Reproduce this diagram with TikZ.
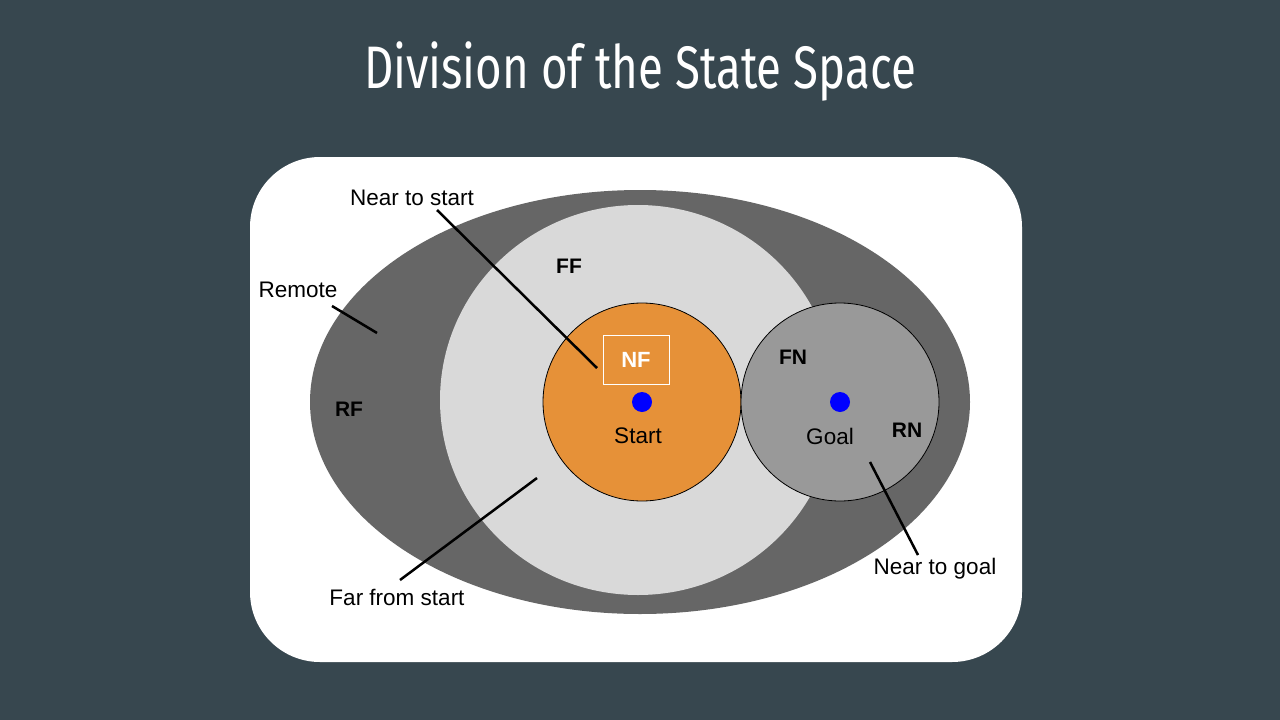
\documentclass[tikz,border=0pt]{standalone}
\usepackage{fontspec}
\setmainfont{Liberation Sans}
\newfontfamily\titlefont{Fira Sans}
\definecolor{bg}{HTML}{37474F}
\definecolor{darkg}{HTML}{666666}
\definecolor{lightg}{HTML}{D9D9D9}
\definecolor{orng}{HTML}{E69138}
\definecolor{goalg}{HTML}{999999}
\begin{document}
\begin{tikzpicture}[x=1pt,y=-1pt,
  lbl/.style={font=\fontsize{22.5}{26}\selectfont, inner sep=1pt},
  blbl/.style={font=\fontsize{21}{24}\selectfont\bfseries, inner sep=1pt},
  ptr/.style={draw=black, line width=2.5pt},
  dot/.style={circle, fill=blue, minimum size=20pt, inner sep=0pt}]
\fill[bg] (0,0) rectangle (1280,720);
\useasboundingbox (0,0) rectangle (1280,720);
\node[text=white, font=\titlefont\fontsize{60}{66}\selectfont, xscale=0.76] (title) at (640,71) {Division of the State Space};
\fill[white, rounded corners=70pt] (250,157) rectangle (1022,662);
\fill[darkg] (640,402) ellipse [x radius=330, y radius=212];
\fill[lightg] (638,400) ellipse [x radius=198, y radius=195];
\draw[fill=orng, line width=0.8pt] (642,402) circle [radius=99];
\draw[fill=goalg, line width=0.8pt] (840,402) circle [radius=99];
\node[dot] (sdot) at (642,402) {};
\node[dot] (gdot) at (840,402) {};
\node[draw=white, line width=1pt, minimum width=66pt, minimum height=49pt, text=white, font=\fontsize{22}{24}\selectfont\bfseries] (nf) at (636,360) {NF};
\node[lbl] (start) at (638,436) {Start};
\node[lbl] (goal) at (830,436) {Goal};
\node[blbl] (ff) at (569,266) {FF};
\node[blbl] (rf) at (349,409) {RF};
\node[blbl] (fn) at (793,357) {FN};
\node[blbl] (rn) at (907,430) {RN};
\node[lbl] (nts) at (412,198) {Near to start};
\node[lbl] (rem) at (298,290) {Remote};
\node[lbl] (ffs) at (397,597) {Far from start};
\node[lbl] (ntg) at (935,569) {Near to goal};
\coordinate (c1) at (597,368);
\coordinate (c2) at (377,333);
\coordinate (c3) at (537,478);
\coordinate (c4) at (870,462);
\draw[ptr] (437,210) -- (c1);
\draw[ptr] (332,306) -- (c2);
\draw[ptr] (400,580) -- (c3);
\draw[ptr] (918,555) -- (c4);
\end{tikzpicture}
\end{document}
